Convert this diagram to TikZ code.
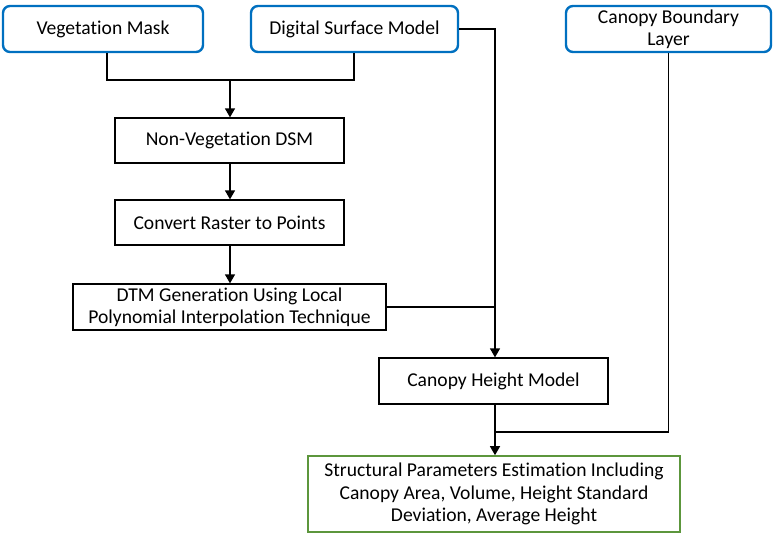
\documentclass[tikz,border=0pt]{standalone}
\usepackage{fontspec}
\setmainfont{Carlito}[Ligatures={NoCommon}]
\usetikzlibrary{arrows.meta}
\definecolor{boxblue}{RGB}{0,112,192}
\definecolor{boxgreen}{RGB}{92,150,60}
\begin{document}
\begin{tikzpicture}[x=1pt,y=-1pt,
  font=\fontsize{19.6}{22.3}\selectfont,
  bluebox/.style={draw=boxblue,line width=2.4pt,rounded corners=7pt,align=center,inner sep=0pt},
  blackbox/.style={draw=black,line width=1.3pt,align=center,inner sep=0pt},
  greenbox/.style={draw=boxgreen,line width=1.6pt,align=center,inner sep=0pt},
  conn/.style={line width=1.3pt},
  arr/.style={line width=1.3pt,-{Triangle[length=9pt,width=10pt]}}]
\useasboundingbox (0,0) rectangle (773,538);
\node[bluebox,minimum width=200pt,minimum height=46pt] (vm) at (103,29) {Vegetation Mask};
\node[bluebox,minimum width=207pt,minimum height=46pt] (dsm) at (354.5,29) {Digital Surface Model};
\node[bluebox,minimum width=205pt,minimum height=46pt] (cbl) at (668.5,29) {Canopy Boundary\\Layer};
\node[blackbox,minimum width=229pt,minimum height=45pt] (nv) at (229.5,140.5) {Non-Vegetation DSM};
\node[blackbox,minimum width=229pt,minimum height=45pt] (cr) at (229.5,222.5) {Convert Raster to Points};
\node[blackbox,minimum width=313pt,minimum height=46pt] (dtm) at (229.5,307) {DTM Generation Using Local\\Polynomial Interpolation Technique};
\node[blackbox,minimum width=229pt,minimum height=46pt] (chm) at (493.5,381) {Canopy Height Model};
\node[greenbox,minimum width=372pt,minimum height=76pt] (sp) at (494,494) {Structural Parameters Estimation Including\\Canopy Area, Volume, Height Standard\\Deviation, Average Height};
\coordinate (j1) at (230,80);
\coordinate (j2) at (495,307);
\coordinate (j3) at (495,432);
\draw[conn] (vm.south -| 107,0) |- (354,80) -- (dsm.south -| 354,0);
\draw[arr] (j1) -- (nv.north -| j1);
\draw[arr] (nv.south -| j1) -- (cr.north -| j1);
\draw[arr] (cr.south -| j1) -- (dtm.north -| j1);
\draw[arr] (dsm.east) -| (chm.north -| j2);
\draw[conn] (dtm.east |- j2) -- (j2);
\draw[conn] (cbl.south) |- (j3);
\draw[arr] (chm.south -| j3) -- (sp.north -| j3);
\end{tikzpicture}
\end{document}
